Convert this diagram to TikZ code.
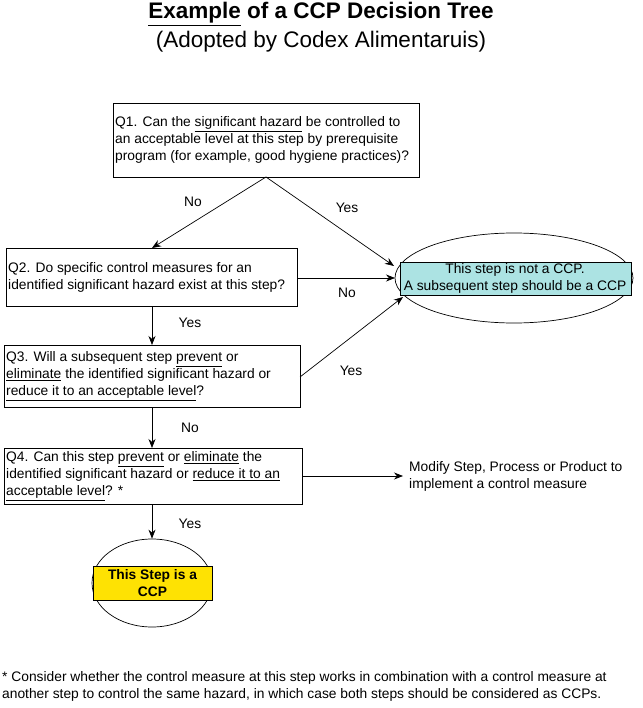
\documentclass[tikz,border=0pt]{standalone}
\usepackage{fontspec}
\setmainfont{Liberation Sans}
\usetikzlibrary{arrows.meta,shapes.geometric}
\begin{document}
\begin{tikzpicture}[x=1pt,y=-1pt,
 txt/.style={font=\fontsize{13.8}{17}\selectfont},
 lab/.style={font=\fontsize{13.8}{17}\selectfont},
 arr/.style={-{Stealth[length=9pt,width=7pt]},line width=0.7pt},
 ell/.style={draw,ellipse,line width=0.7pt}]
\useasboundingbox (0,0) rectangle (642,708);
\node (t1) at (321,14) {\fontsize{22.5}{26}\selectfont\bfseries\underline{Example} of a CCP Decision Tree};
\node (t2) at (321,42) {\fontsize{22.5}{26}\selectfont (Adopted by Codex Alimentaruis)};
\draw[thick] (113,103) rectangle (419,177);
\node[txt,align=left,anchor=west,inner sep=0pt] (q1) at (115,140) {Q1. Can the \underline{significant hazard} be controlled to\\an acceptable level at this step by prerequisite\\program (for example, good hygiene practices)?};
\coordinate (q1b) at (266,177);
\draw[thick] (6,248) rectangle (297,306);
\node[txt,align=left,anchor=west,inner sep=0pt] (q2) at (8,277) {Q2. Do specific control measures for an\\identified significant hazard exist at this step?};
\draw[thick] (4,345) rectangle (300,407);
\node[txt,align=left,anchor=west,inner sep=0pt] (q3) at (6,376) {Q3. Will a subsequent step \underline{prevent} or\\\underline{eliminate} the identified significant hazard or\\\underline{reduce it to an acceptable level}?};
\draw[thick] (4,448) rectangle (302,504);
\node[txt,align=left,anchor=west,inner sep=0pt] (q4) at (6,476) {Q4. Can this step \underline{prevent} or \underline{eliminate} the\\identified significant hazard or \underline{reduce it to an}\\\underline{acceptable level}? *};
\node[ell,minimum width=238,minimum height=90] (e1) at (514,278) {};
\draw[fill=cyan!25!white!90!green,line width=0.7pt] (400,262) rectangle (631,295);
\node[txt,align=center] (n1) at (515,278.5) {This step is not a CCP.\\A subsequent step should be a CCP};
\node[ell,minimum width=120,minimum height=88] (e2) at (152,583) {};
\draw[fill=yellow!85!orange,line width=0.7pt] (93,566) rectangle (212,600);
\node[txt,align=center,font=\fontsize{13.8}{17}\selectfont\bfseries] (n2) at (152.5,583) {This Step is a\\CCP};
\node[txt,align=left,anchor=west,inner sep=0pt] (mod) at (409,476) {Modify Step, Process or Product to\\implement a control measure};
\coordinate (q2t) at (152,248); \coordinate (q2b) at (152,306); \coordinate (q2r) at (297,278);
\coordinate (q3t) at (152,345); \coordinate (q3b) at (152,407); \coordinate (q3r) at (300,377);
\coordinate (q4t) at (152,448); \coordinate (q4b) at (152,504); \coordinate (q4r) at (302,476);
\draw[arr] (q1b) -- (q2t);
\draw[arr] (q1b) -- (394,266);
\draw[arr] (q2r) -- (395,278);
\draw[arr] (q2b) -- (q3t);
\draw[arr] (q3r) -- (403,297);
\draw[arr] (q3b) -- (q4t);
\draw[arr] (q4r) -- (403,476);
\draw[arr] (q4b) -- (e2.north);
\node[lab] at (193,202) {No};
\node[lab] at (347,208) {Yes};
\node[lab] at (347,293) {No};
\node[lab] at (190,323) {Yes};
\node[lab] at (351,371) {Yes};
\node[lab] at (190,428) {No};
\node[lab] at (190,524) {Yes};
\node[txt,align=left,anchor=west,inner sep=0pt] (fn) at (2,686) {* Consider whether the control measure at this step works in combination with a control measure at\\another step to control the same hazard, in which case both steps should be considered as CCPs.};
\end{tikzpicture}
\end{document}
